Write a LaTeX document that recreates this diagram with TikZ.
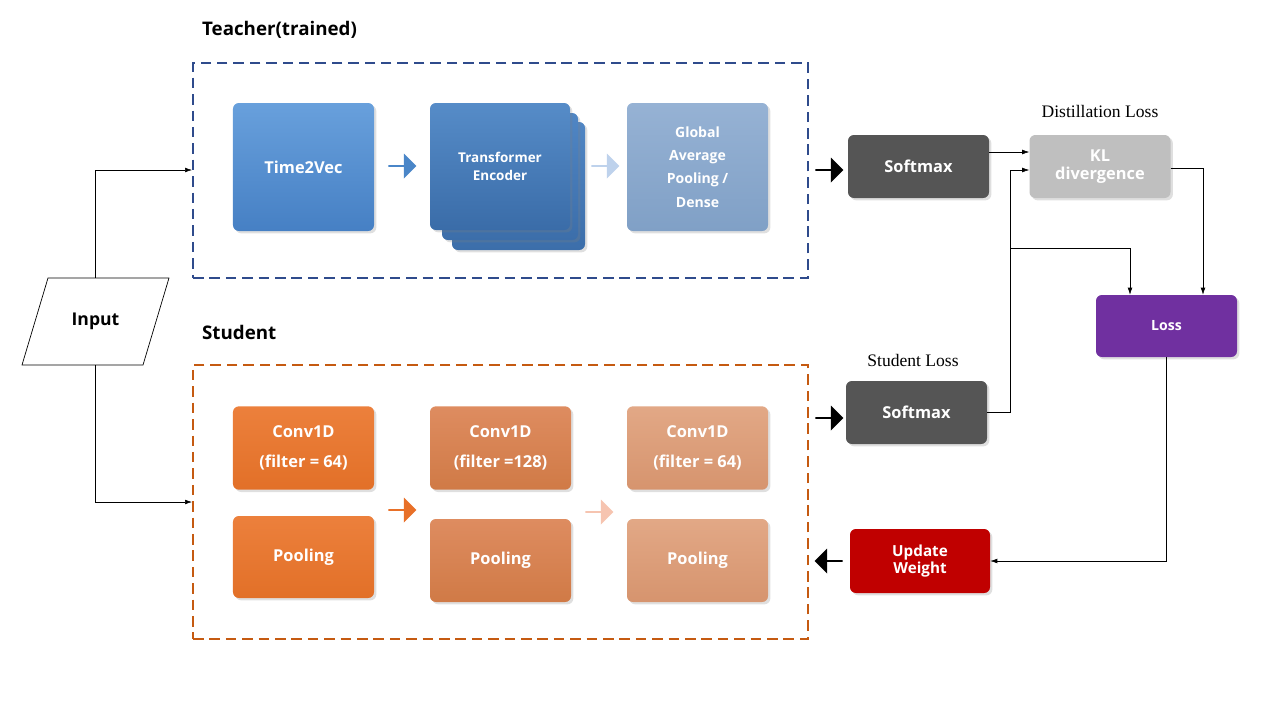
\documentclass[tikz,border=0pt]{standalone}
\usepackage{fontspec}
\setmainfont{Open Sans}
\newfontfamily\serifl{Liberation Serif}
\usetikzlibrary{shapes.arrows,shadows,arrows.meta}
\definecolor{tblue}{HTML}{2F4B8C}
\definecolor{sorange}{HTML}{C55A11}
\begin{document}
\begin{tikzpicture}[x=0.03cm,y=-0.03cm,
  box/.style={rounded corners=5pt,inner sep=1pt,text=white,font=\bfseries\fontsize{14}{17}\selectfont,align=center,drop shadow={opacity=0.25,shadow xshift=2pt,shadow yshift=-2pt}},
  big/.style={box,minimum width=4.23cm,minimum height=3.84cm},
  sm/.style={box,minimum width=4.23cm,minimum height=1.89cm},
  cv/.style={box,minimum width=4.23cm,minimum height=2.5cm},
  fat/.style={single arrow,single arrow head extend=3pt,minimum height=0.84cm,minimum width=0.75cm,inner sep=0pt,draw=none},
  con/.style={-{Latex[length=6pt,width=4pt]},black,line width=0.5pt},
  ttl/.style={font=\bfseries\fontsize{16}{19}\selectfont,anchor=west},
  lbl/.style={font=\serifl\fontsize{15}{18}\selectfont}]
\useasboundingbox (0,0) rectangle (1280,720);
% titles
\node[ttl] (tt) at (198,30) {Teacher(trained)};
\node[ttl] (st) at (198,332) {Student};
% dashed boxes
\node[draw=tblue,dashed,line width=1.6pt,dash pattern=on 9pt off 5pt,minimum width=18.45cm,minimum height=6.45cm,inner sep=0] (tbox) at (500.5,170.5) {};
\node[draw=sorange,dashed,line width=1.6pt,dash pattern=on 9pt off 5pt,minimum width=18.45cm,minimum height=8.22cm,inner sep=0] (sbox) at (500.5,502) {};
% teacher
\node[big,top color=blue!10!cyan!40!blue!60!white,bottom color=blue!60!cyan!70!black!80,top color={rgb,255:red,104;green,160;blue,220},bottom color={rgb,255:red,70;green,128;blue,196}] (t2v) at (303.5,167) {Time2Vec};
\node[fat,fill={rgb,255:red,74;green,134;blue,200}] (a1) at (402,166) {};
\node[box,minimum width=3.99cm,minimum height=3.84cm,top color={rgb,255:red,80;green,134;blue,196},bottom color={rgb,255:red,60;green,110;blue,170}] (tr3) at (518.5,186) {};
\node[box,minimum width=4.08cm,minimum height=3.81cm,top color={rgb,255:red,80;green,134;blue,196},bottom color={rgb,255:red,60;green,110;blue,170}] (tr2) at (510,176.5) {};
\node[box,minimum width=4.2cm,minimum height=3.81cm,font=\bfseries\fontsize{11.5}{15}\selectfont,top color={rgb,255:red,86;green,140;blue,200},bottom color={rgb,255:red,58;green,108;blue,168}] (tr) at (500,166.5) {Transformer\\Encoder};
\node[fat,fill={rgb,255:red,190;green,210;blue,236}] (a2) at (605,166) {};
\node[big,font=\bfseries\fontsize{12}{20}\selectfont,top color={rgb,255:red,150;green,178;blue,212},bottom color={rgb,255:red,128;green,160;blue,198}] (gap) at (697.5,167) {Global\\Average\\Pooling /\\Dense};
\node[fat,fill=black] (a3) at (829,170) {};
% right side
\node[sm,fill={rgb,255:red,85;green,85;blue,85}] (smt) at (918.5,166.5) {Softmax};
\node[sm,fill={rgb,255:red,191;green,191;blue,191},font=\bfseries\fontsize{14}{15}\selectfont] (kl) at (1100,166.5) {KL\\divergence};
\node[lbl] (dl) at (1100,111) {Distillation Loss};
\node[sm,minimum height=1.86cm,fill={rgb,255:red,112;green,48;blue,160},font=\bfseries\fontsize{12}{15}\selectfont] (loss) at (1166.5,326) {Loss};
\node[lbl] (sl) at (913,360) {Student Loss};
\node[sm,fill={rgb,255:red,85;green,85;blue,85}] (sms) at (916.5,412.5) {Softmax};
\node[fat,fill=black] (a4) at (829,418) {};
\node[sm,minimum width=4.2cm,minimum height=1.92cm,fill={rgb,255:red,192;green,0;blue,0},font=\bfseries\fontsize{13}{15}\selectfont] (upd) at (920,561) {Update\\Weight};
\node[fat,fill=black,shape border rotate=180] (a5) at (829,561) {};
% student
\node[cv,top color={rgb,255:red,236;green,128;blue,60},bottom color={rgb,255:red,226;green,112;blue,40},font=\bfseries\fontsize{14}{26}\selectfont] (c1) at (303.5,448) {Conv1D\\(filter = 64)};
\node[cv,top color={rgb,255:red,222;green,140;blue,96},bottom color={rgb,255:red,208;green,122;blue,70},font=\bfseries\fontsize{14}{26}\selectfont] (c2) at (500.5,448) {Conv1D\\(filter =128)};
\node[cv,top color={rgb,255:red,226;green,168;blue,134},bottom color={rgb,255:red,214;green,148;blue,110},font=\bfseries\fontsize{14}{26}\selectfont] (c3) at (697.5,448) {Conv1D\\(filter = 64)};
\node[cv,minimum height=2.46cm,top color={rgb,255:red,236;green,128;blue,60},bottom color={rgb,255:red,226;green,112;blue,40}] (p1) at (303.5,557) {Pooling};
\node[cv,minimum height=2.49cm,top color={rgb,255:red,222;green,140;blue,96},bottom color={rgb,255:red,208;green,122;blue,70}] (p2) at (500.5,560.5) {Pooling};
\node[cv,minimum height=2.49cm,top color={rgb,255:red,226;green,168;blue,134},bottom color={rgb,255:red,214;green,148;blue,110}] (p3) at (697.5,560.5) {Pooling};
\node[fat,fill={rgb,255:red,232;green,112;blue,40}] (a6) at (402,510) {};
\node[fat,fill={rgb,255:red,246;green,196;blue,176}] (a7) at (599,512) {};
% input
\draw[line width=0.6pt] (48,278) -- (169,278) -- (143,365) -- (22,365) -- cycle;
\node[font=\bfseries\fontsize{15}{18}\selectfont,minimum width=3.6cm,minimum height=2.61cm,inner sep=0] (in) at (95.5,321.5) {Input};
% connectors
\draw[con] (in.north) |- (tbox.west |- 0,170);
\draw[con] (in.south) |- (sbox.west |- 0,502);
\draw[con] (smt.east |- 0,152) -- (kl.west |- 0,152);
\coordinate (j1) at (1010,412);
\coordinate (j2) at (1010,248);
\draw[con] (sms.east |- j1) -- (j1) |- (kl.west |- 0,170);
\draw[con] (j2) -| (loss.north -| 1130,0);
\draw[con] (kl.east |- 0,168) -| (loss.north -| 1203,0);
\draw[con] (loss.south) |- (upd.east);
\end{tikzpicture}
\end{document}
